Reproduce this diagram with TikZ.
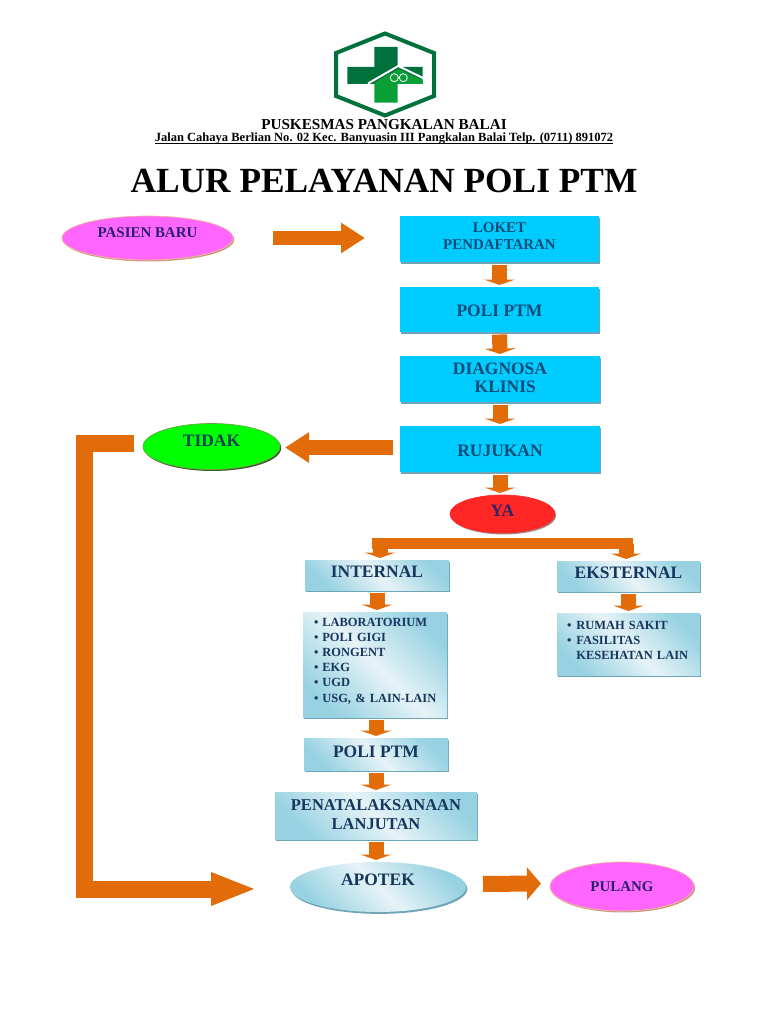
\documentclass[tikz,border=0pt]{standalone}
\usepackage{fontspec}
\setmainfont{Liberation Serif}
\usetikzlibrary{shapes.geometric,arrows.meta,shadows}
\newdimen\px \px=.75pt
\newcommand\up[2]{\smash{\raisebox{\dimexpr#1\px-.33em\relax}{#2}}}
\newcommand\twolines[2]{\begin{tabular}[c]{@{}c@{}}#1\\#2\end{tabular}}
\definecolor{org}{HTML}{E36C0A}
\definecolor{navy}{HTML}{17365D}
\definecolor{dkgreen}{HTML}{00703C}
\definecolor{brgreen}{HTML}{0A9E36}
\definecolor{boxcyan}{HTML}{00CCFF}
\definecolor{gdark}{HTML}{98D2E2}
\definecolor{glight}{HTML}{E6F3F7}
\definecolor{shade}{HTML}{6FA5B8}
\definecolor{magfill}{HTML}{FF66FF}
\definecolor{peach}{HTML}{F4B896}
\definecolor{peachdk}{HTML}{C89A80}
\definecolor{redfill}{HTML}{FF2626}
\definecolor{tidakedge}{HTML}{6FA040}
\definecolor{tidakshadow}{HTML}{3A5A2A}
\definecolor{yashadow}{HTML}{A08A8A}
\definecolor{magtext}{HTML}{2B1F6B}
\definecolor{cyantext}{HTML}{0F4C78}
\definecolor{tidaktext}{HTML}{0A4650}
\definecolor{yatext}{HTML}{2B2468}
\tikzset{
  size/.style 2 args={minimum width=#1*.75pt,minimum height=#2*.75pt,inner sep=0pt,outer sep=0pt},
  big/.style={font=\bfseries\fontsize{13.1}{14}\selectfont},
  wide/.style={font=\bfseries\fontsize{12.4}{14}\selectfont},
  mid/.style={font=\bfseries\fontsize{11.2}{12.8}\selectfont},
  small/.style={font=\bfseries\fontsize{9.35}{11.4}\selectfont},
  cyanbox/.style={rectangle,fill=boxcyan,text=cyantext,drop shadow={shadow xshift=1pt,shadow yshift=-1.4pt,fill=shade,opacity=1}},
  gradfill/.style={top color=gdark,bottom color=gdark,middle color=glight,shading angle=-45,text=navy,drop shadow={shadow xshift=1pt,shadow yshift=-1.4pt,fill=shade,opacity=1}},
  gradbox/.style={rectangle,gradfill},
  oval/.style 2 args={ellipse,draw=#1,line width=.5pt,drop shadow={shadow xshift=.9pt,shadow yshift=-1.1pt,fill=#2,opacity=1}},
  blockv/.style={org,line width=15*.75pt,-{Triangle[length=5.5*.75pt,width=31*.75pt]},shorten <=2.5*.75pt,shorten >=2*.75pt},
  blockh/.style={org,line width=14.5*.75pt,-{Triangle[length=24*.75pt,width=29*.75pt]}},
  plain/.style={font=\bfseries,text=black,inner sep=0pt},
}
\begin{document}
\begin{tikzpicture}[x=.75pt,y=-.75pt]
\useasboundingbox (0,0) rectangle (768,1024);
% logo
\draw[dkgreen,line width=3pt,line join=miter] (385,33.5)--(434,53)--(434,96)--(385,115.5)--(336,96)--(336,53)--cycle;
\fill[dkgreen] (374.3,47)--(397.7,47)--(397.7,67)--(422.7,67)--(422.7,84)--(347.3,84)--(347.3,67)--(374.3,67)--cycle;
\fill[brgreen] (398.3,69)--(374.3,82.7)--(374.3,102.7)--(397.7,102.7)--(397.7,84)--(422.7,84)--(422.7,80)--cycle;
\draw[white,line width=1.5pt] (368,83.5)--(398.3,66)--(424,78.5);
\draw[white,line width=.6pt] (394.3,77.7) circle (4) (403.3,77.7) circle (4);
% header
\node[plain,font=\bfseries\fontsize{11.4}{13}\selectfont] (head1) at (384,125) {PUSKESMAS PANGKALAN BALAI};
\node[plain,font=\bfseries\fontsize{9.4}{11}\selectfont] (head2) at (384,143) {\underline{\smash{Jalan Cahaya Berlian No. 02 Kec. Banyuasin III Pangkalan Balai Telp. (0711) 891072}}};
\node[plain,font=\bfseries\fontsize{26.5}{30}\selectfont] (title) at (384,181) {ALUR PELAYANAN POLI PTM};
% nodes
\node[oval={peach}{peachdk},fill=magfill,text=magtext,mid,size={171}{44}] (pasien) at (147.5,238) {\up{5}{PASIEN BARU}};
\node[cyanbox,mid,size={199}{46}] (loket) at (499.5,239) {\up{2.5}{\twolines{LOKET}{PENDAFTARAN}}};
\node[cyanbox,big,size={199}{45}] (poli) at (499.5,309.5) {\up{-1.5}{POLI PTM}};
\node[cyanbox,big,size={200}{46}] (diag) at (500,379) {\up{1}{\twolines{DIAGNOSA}{\hspace*{.6em}KLINIS}}};
\node[cyanbox,big,size={200}{46}] (ruj) at (500,449) {\up{-2}{RUJUKAN}};
\node[oval={tidakedge}{tidakshadow},fill=green,text=tidaktext,big,size={137}{46}] (tidak) at (211.5,446.5) {\up{5.5}{TIDAK}};
\node[oval={redfill}{yashadow},fill=redfill,text=yatext,big,size={105}{38}] (ya) at (502.5,514) {\up{3}{YA}};
\node[gradbox,big,size={144}{30}] (internal) at (377,575) {\up{3}{INTERNAL}};
\node[gradbox,big,size={143}{30}] (eksternal) at (628.5,576) {\up{3}{EKSTERNAL}};
\node[gradbox,small,size={144}{105},text width=144*.75pt] (list) at (375,664.5) {\up{4.5}{\hspace*{11\px}\begin{tabular}[c]{@{}l@{\hspace{4\px}}l@{}}
\textbullet&LABORATORIUM\\\textbullet&POLI GIGI\\\textbullet&RONGENT\\\textbullet&EKG\\\textbullet&UGD\\\textbullet&USG, \& LAIN-LAIN\end{tabular}}};
\node[gradbox,small,size={143}{62},text width=143*.75pt] (rumah) at (628.5,644) {\up{3.5}{\hspace*{10\px}\begin{tabular}[c]{@{}l@{\hspace{5\px}}l@{}}
\textbullet&RUMAH SAKIT\\\textbullet&FASILITAS\\&KESEHATAN LAIN\end{tabular}}};
\node[gradbox,big,size={144}{32}] (poli2) at (376,754) {\up{2}{POLI PTM}};
\node[gradbox,wide,size={202}{47}] (penat) at (376,815.5) {\up{1}{\twolines{PENATALAKSANAAN}{LANJUTAN}}};
\node[ellipse,gradfill,big,size={176}{50}] (apotek) at (378,887) {\up{7}{APOTEK}};
\node[oval={peach}{peachdk},fill=magfill,text=magtext,mid,size={144}{49}] (pulang) at (622,886.5) {PULANG};
% free-end coordinates
\coordinate (branchL) at (372,543.5);
\coordinate (branchR) at (633,543.5);
\coordinate (dropL) at (380,543.5);
\coordinate (dropR) at (626,543.5);
\coordinate (backStart) at (134,443);
\coordinate (backC1) at (84.5,443);
\coordinate (backC2) at (84.5,889);
% connectors
\draw[blockh,shorten <=40*.75pt,shorten >=35*.75pt] (pasien.east) -- (pasien.east -| loket.west);
\draw[blockv] (loket.south) -- (poli.north);
\draw[blockv] (poli.south) -- (diag.north);
\draw[blockv] (diag.south) -- (ruj.north);
\draw[blockv] (ruj.south) -- (ruj.south |- ya.north);
\draw[blockh,shorten <=7*.75pt,shorten >=5*.75pt] ([yshift=1.1pt]ruj.west) -- ([yshift=1.1pt]ruj.west -| tidak.east);
\draw[org,line width=11*.75pt] (branchL) -- (branchR);
\draw[blockv,shorten <=0pt] (dropL) -- (dropL |- internal.north);
\draw[blockv,shorten <=0pt] (dropR) -- (dropR |- eksternal.north);
\draw[blockv] (internal.south) -- (internal.south |- list.north);
\draw[blockv] (eksternal.south) -- (eksternal.south |- rumah.north);
\draw[blockv] (poli2.north |- list.south) -- (poli2.north);
\draw[blockv] (poli2.south) -- (poli2.south |- penat.north);
\draw[blockv] (penat.south) -- (penat.south |- apotek.north);
\draw[org,line width=17*.75pt,-{Triangle[length=46*.75pt,width=30*.75pt]},shorten >=33*.75pt] (backStart) -- (backC1) -- (backC2) -- (backC2 -| apotek.west);
\draw[org,line width=16*.75pt,-{Triangle[length=14*.75pt,width=32*.75pt]},shorten <=17*.75pt,shorten >=9*.75pt] ([yshift=3*.75pt]apotek.east) -- ([yshift=3*.75pt]pulang.west);
\end{tikzpicture}
\end{document}
